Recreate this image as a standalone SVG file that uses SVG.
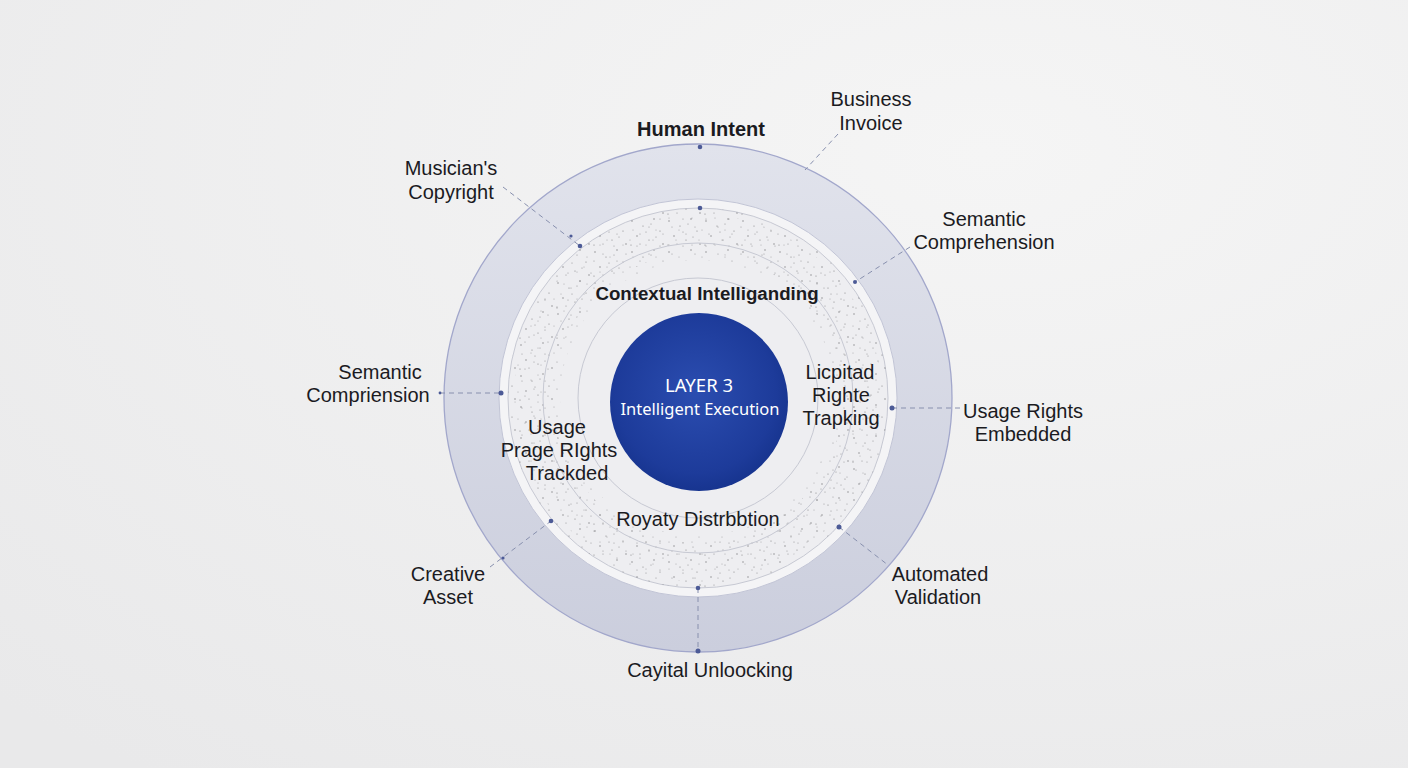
<svg xmlns="http://www.w3.org/2000/svg" width="1408" height="768" viewBox="0 0 1408 768">
  <defs>
    <radialGradient id="bg" cx="0.7" cy="0.2" r="1">
      <stop offset="0" stop-color="#f5f5f5"/>
      <stop offset="1" stop-color="#e9e9ea"/>
    </radialGradient>
    <linearGradient id="band" x1="0" y1="0" x2="0" y2="1">
      <stop offset="0" stop-color="#e1e3ec"/>
      <stop offset="1" stop-color="#cbcedd"/>
    </linearGradient>
    <radialGradient id="core" cx="0.48" cy="0.45" r="0.6">
      <stop offset="0" stop-color="#2b4db0"/>
      <stop offset="0.75" stop-color="#1d3b9a"/>
      <stop offset="1" stop-color="#14318a"/>
    </radialGradient>
    <pattern id="stip1" width="37" height="31" patternUnits="userSpaceOnUse">
      <circle cx="3" cy="4" r="0.7"/><circle cx="14" cy="9" r="0.6"/><circle cx="25" cy="2" r="0.7"/>
      <circle cx="31" cy="14" r="0.6"/><circle cx="8" cy="19" r="0.7"/><circle cx="20" cy="23" r="0.6"/>
      <circle cx="34" cy="27" r="0.7"/><circle cx="2" cy="28" r="0.6"/><circle cx="17" cy="15" r="0.5"/>
      <circle cx="27" cy="20" r="0.5"/><circle cx="11" cy="27" r="0.5"/><circle cx="22" cy="7" r="0.5"/>
    </pattern>
    <pattern id="stip2" width="23" height="27" patternUnits="userSpaceOnUse">
      <circle cx="5" cy="11" r="0.6"/><circle cx="16" cy="3" r="0.6"/><circle cx="19" cy="18" r="0.6"/>
      <circle cx="9" cy="24" r="0.5"/><circle cx="12" cy="14" r="0.5"/><circle cx="2" cy="2" r="0.5"/>
    </pattern>
    <style>
      .lbl { font-family: "Liberation Sans", Arial, sans-serif; font-size: 20px; fill: #1b1b1f; text-anchor: middle; }
      .bold { font-weight: bold; }
      .ctx { font-size: 18.7px; }
      .core { font-family: "Noto Sans", "Open Sans", sans-serif; fill: #ffffff; text-anchor: middle; }
      .conn { stroke: #8890ae; stroke-width: 1; stroke-dasharray: 5 4; fill: none; }
      .dot { fill: #4c5a96; }
      .thin { fill: none; stroke: #c7c9d3; stroke-width: 1; }
    </style>
  </defs>

  <rect width="1408" height="768" fill="url(#bg)"/>

  <g id="rings">
    <circle cx="698" cy="398" r="254" fill="url(#band)" stroke="#a2a7cb" stroke-width="1.3"/>
    <circle cx="698" cy="398" r="199" fill="#f4f4f6" stroke="#c2c5d6" stroke-width="1"/>
    <circle cx="698" cy="398" r="190" fill="#eeeef1" stroke="#c7c9d3" stroke-width="1"/>
    <g fill="#7b84a8" fill-opacity="0.45">
      <path fill-rule="evenodd" fill="url(#stip1)"
        d="M 508,398 a190,190 0 1,0 380,0 a190,190 0 1,0 -380,0 Z M 553,398 a145,145 0 1,0 290,0 a145,145 0 1,0 -290,0 Z"/>
    </g>
    <g fill="#7b84a8" fill-opacity="0.35">
      <path fill-rule="evenodd" fill="url(#stip2)"
        d="M 514,398 a184,184 0 1,0 368,0 a184,184 0 1,0 -368,0 Z M 560,398 a138,138 0 1,0 276,0 a138,138 0 1,0 -276,0 Z"/>
    </g>
    <circle cx="698" cy="398" r="155" class="thin"/>
    <circle cx="698" cy="398" r="120" fill="#f0f0f1" class="thin"/>
  </g>

  <g id="connectors">
    <line class="conn" x1="838" y1="134" x2="805" y2="170"/>
    <line class="conn" x1="503" y1="187" x2="580" y2="246"/>
    <line class="conn" x1="910" y1="247" x2="855" y2="282"/>
    <line class="conn" x1="440" y1="393" x2="501" y2="393"/>
    <line class="conn" x1="960" y1="408" x2="892" y2="408"/>
    <line class="conn" x1="490" y1="567" x2="551" y2="521"/>
    <line class="conn" x1="839" y1="527" x2="888" y2="565"/>
    <line class="conn" x1="698" y1="588" x2="698" y2="651"/>
    <circle class="dot" cx="700" cy="147" r="2.3"/>
    <circle class="dot" cx="700" cy="208" r="2.3"/>
    <circle class="dot" cx="580" cy="246" r="2.3"/>
    <circle class="dot" cx="571" cy="236" r="1.6"/>
    <circle class="dot" cx="855" cy="282" r="2"/>
    <circle class="dot" cx="501" cy="393" r="2.5"/>
    <circle class="dot" cx="440" cy="393" r="1.4"/>
    <circle class="dot" cx="892" cy="408" r="2.5"/>
    <circle class="dot" cx="551" cy="521" r="2.3"/>
    <circle class="dot" cx="503" cy="558" r="1.6"/>
    <circle class="dot" cx="839" cy="527" r="2.5"/>
    <circle class="dot" cx="698" cy="588" r="2.3"/>
    <circle class="dot" cx="698" cy="651" r="2.5"/>
  </g>

  <g id="core">
    <circle cx="699" cy="402" r="89" fill="url(#core)"/>
    <text class="core" x="699" y="392" font-size="18.5">LAYER 3</text>
    <text class="core" x="700" y="415" font-size="16.5">Intelligent Execution</text>
  </g>

  <g id="human-intent"><text class="lbl bold" x="701" y="136">Human Intent</text></g>
  <g id="business-invoice"><text class="lbl" x="871" y="106">Business</text><text class="lbl" x="871" y="130">Invoice</text></g>
  <g id="musicians-copyright"><text class="lbl" x="451" y="175">Musician's</text><text class="lbl" x="451" y="199">Copyright</text></g>
  <g id="semantic-comprehension"><text class="lbl" x="984" y="226">Semantic</text><text class="lbl" x="984" y="249">Comprehension</text></g>
  <g id="contextual"><text class="lbl bold ctx" x="707" y="300">Contextual Intelliganding</text></g>
  <g id="semantic-compriension"><text class="lbl" x="380" y="379">Semantic</text><text class="lbl" x="368" y="402">Compriension</text></g>
  <g id="licpitad"><text class="lbl" x="840" y="379">Licpitad</text><text class="lbl" x="841" y="402">Righte</text><text class="lbl" x="841" y="425">Trapking</text></g>
  <g id="usage-rights-embedded"><text class="lbl" x="1023" y="418">Usage Rights</text><text class="lbl" x="1023" y="441">Embedded</text></g>
  <g id="usage-prage"><text class="lbl" x="557" y="434">Usage</text><text class="lbl" x="559" y="457">Prage RIghts</text><text class="lbl" x="567" y="480">Trackded</text></g>
  <g id="royalty"><text class="lbl" x="698" y="526">Royaty Distrbbtion</text></g>
  <g id="creative-asset"><text class="lbl" x="448" y="581">Creative</text><text class="lbl" x="448" y="604">Asset</text></g>
  <g id="automated-validation"><text class="lbl" x="940" y="581">Automated</text><text class="lbl" x="938" y="604">Validation</text></g>
  <g id="capital"><text class="lbl" x="710" y="677">Cayital Unloocking</text></g>
</svg>
